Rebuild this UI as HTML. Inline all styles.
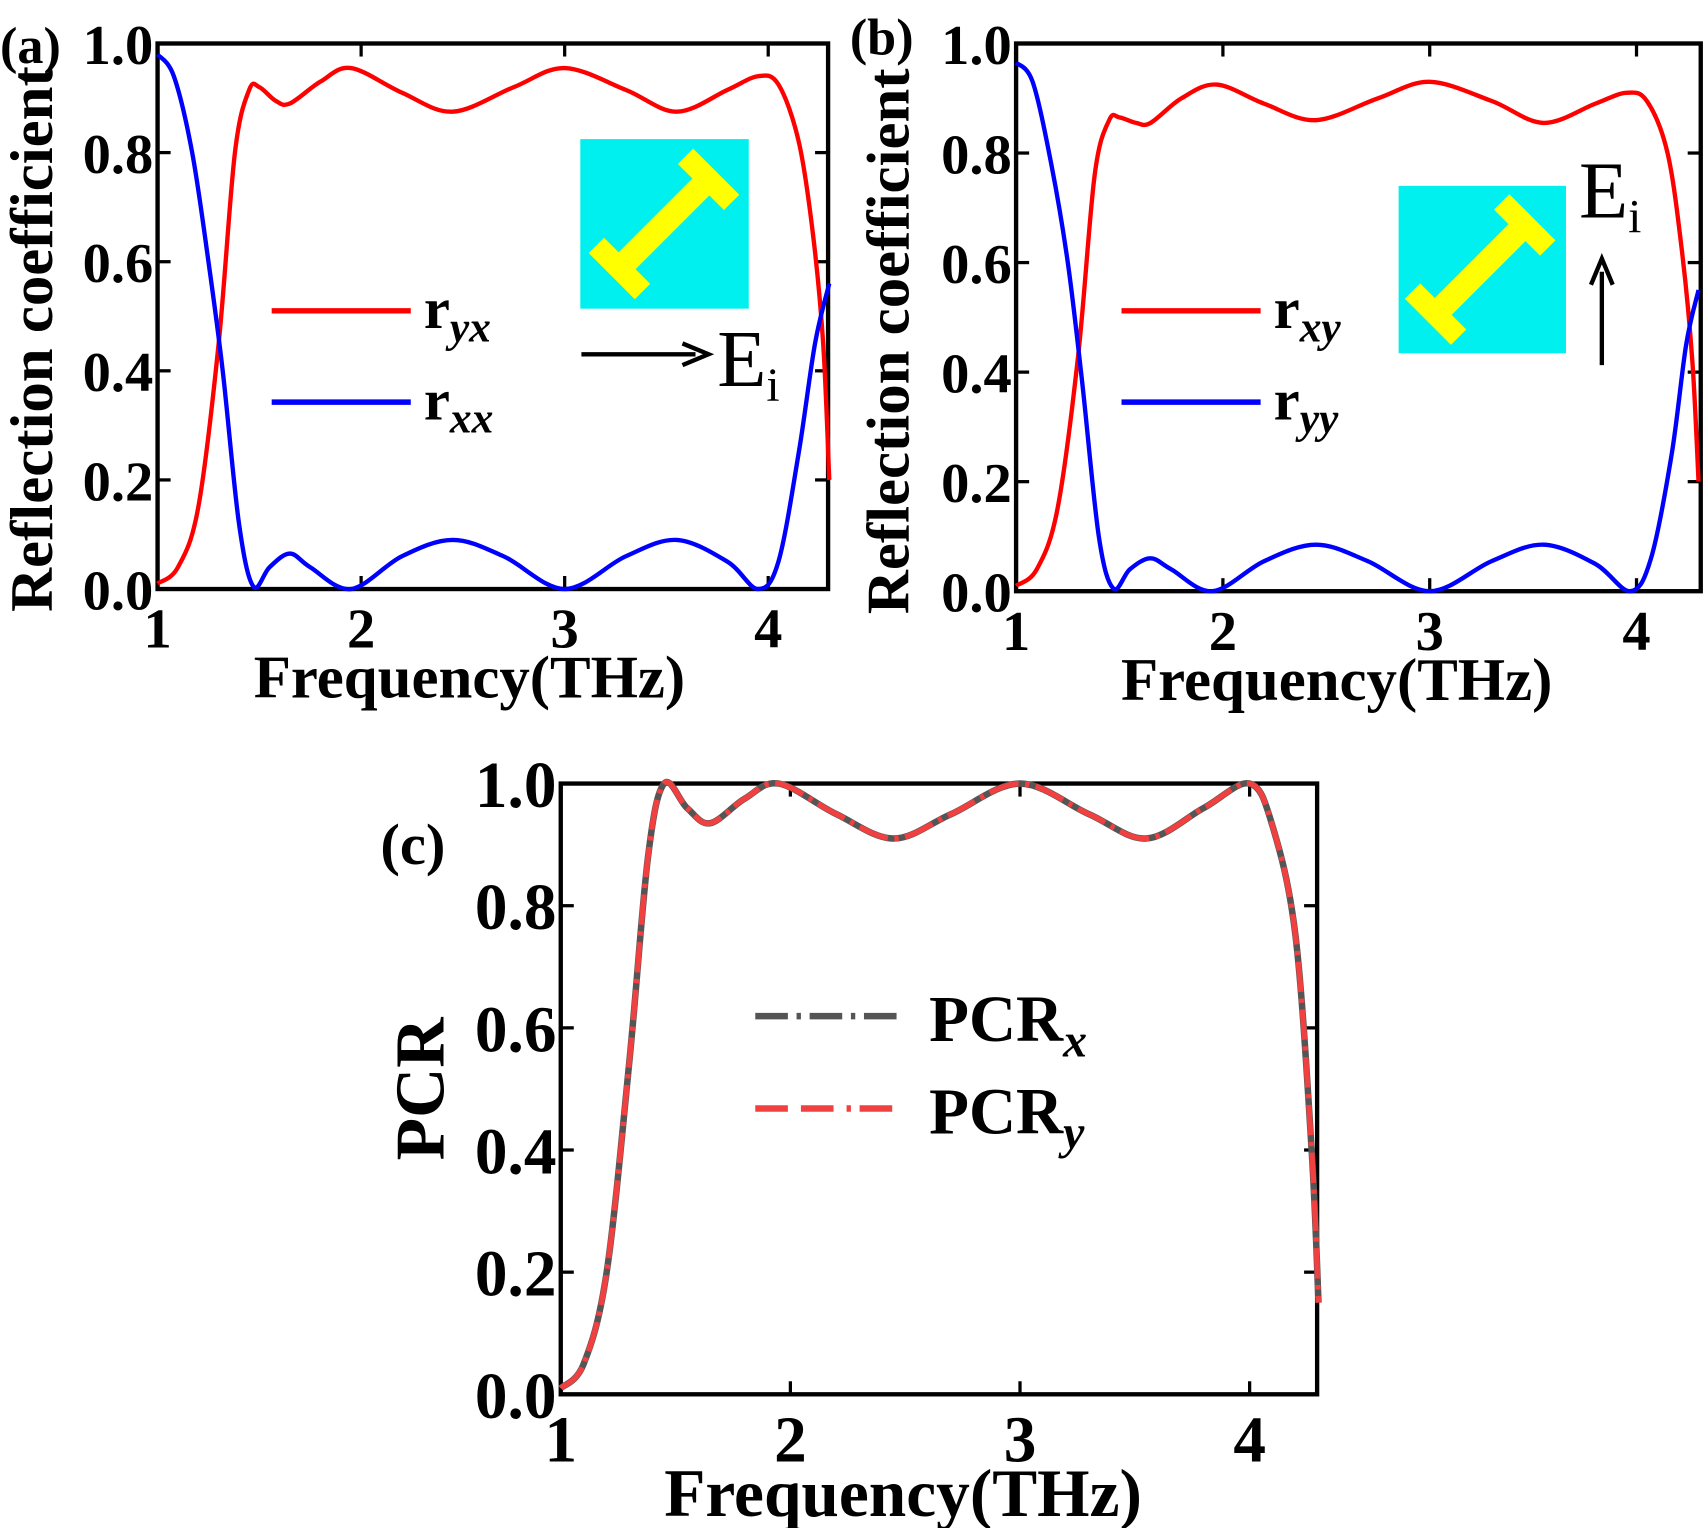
<!DOCTYPE html>
<html><head><meta charset="utf-8"><style>
html,body{margin:0;padding:0;background:#fff}
svg{display:block}
text{font-family:"Liberation Serif",serif;font-weight:bold}
</style></head><body>
<svg id="s" width="1704" height="1528" viewBox="0 0 1568 1406" xmlns="http://www.w3.org/2000/svg">
<g id="g"></g>
<text x="0" y="58" font-size="48">(a)</text>
<text x="782" y="50" font-size="48">(b)</text>
<text x="350" y="795" font-size="54">(c)</text>
<rect x="534" y="128" width="155" height="156" fill="#00f0f0"/>
<g transform="translate(611,206) rotate(-45)" fill="#ffff00">
<rect x="-58" y="-11" width="116" height="22"/><rect x="-68" y="-30" width="20" height="60"/><rect x="48" y="-30" width="20" height="60"/></g>
<line x1="535" y1="326" x2="640" y2="326" stroke="#000" stroke-width="4"/>
<path d="M628,316 L652,326 L628,336" fill="none" stroke="#000" stroke-width="4"/>
<text x="660" y="355" font-size="74" style="font-weight:normal">E<tspan font-size="44" dy="14">i</tspan></text>
<rect x="1287" y="171" width="154" height="154" fill="#00f0f0"/>
<g transform="translate(1362,248) rotate(-45)" fill="#ffff00">
<rect x="-58" y="-11" width="116" height="22"/><rect x="-68" y="-30" width="20" height="60"/><rect x="48" y="-30" width="20" height="60"/></g>
<line x1="1474" y1="336" x2="1474" y2="250" stroke="#000" stroke-width="4"/>
<path d="M1464,262 L1474,238 L1484,262" fill="none" stroke="#000" stroke-width="4"/>
<text x="1453" y="200" font-size="74" style="font-weight:normal">E<tspan font-size="44" dy="14">i</tspan></text>
<line x1="250" y1="286" x2="378" y2="286" stroke="#f00" stroke-width="5"/>
<text x="390" y="302" font-size="54">r<tspan font-size="40" dy="12" font-style="italic">yx</tspan></text>
<line x1="250" y1="370" x2="378" y2="370" stroke="#00f" stroke-width="5"/>
<text x="390" y="386" font-size="54">r<tspan font-size="40" dy="12" font-style="italic">xx</tspan></text>
<line x1="1032" y1="286" x2="1160" y2="286" stroke="#f00" stroke-width="5"/>
<text x="1172" y="302" font-size="54">r<tspan font-size="40" dy="12" font-style="italic">xy</tspan></text>
<line x1="1032" y1="370" x2="1160" y2="370" stroke="#00f" stroke-width="5"/>
<text x="1172" y="386" font-size="54">r<tspan font-size="40" dy="12" font-style="italic">yy</tspan></text>
<line x1="695" y1="935" x2="825" y2="935" stroke="#555" stroke-width="6" stroke-dasharray="30,8,4,8"/>
<text x="855" y="958" font-size="60">PCR<tspan font-size="44" dy="14" font-style="italic">x</tspan></text>
<line x1="695" y1="1020" x2="825" y2="1020" stroke="#f04040" stroke-width="6" stroke-dasharray="30,12,30,12,4,8"/>
<text x="855" y="1043" font-size="60">PCR<tspan font-size="44" dy="14" font-style="italic">y</tspan></text>
</svg>
<script>
var NS="http://www.w3.org/2000/svg",g=document.getElementById('g');
function el(t,a,txt){var e=document.createElementNS(NS,t);for(var k in a)e.setAttribute(k,a[k]);if(txt!=null)e.textContent=txt;g.appendChild(e);return e;}
function cr(pts){var d="M"+pts[0][0]+","+pts[0][1];for(var i=0;i<pts.length-1;i++){var p0=pts[Math.max(i-1,0)],p1=pts[i],p2=pts[i+1],p3=pts[Math.min(i+2,pts.length-1)];
d+=" C"+(p1[0]+(p2[0]-p0[0])/6)+","+(p1[1]+(p2[1]-p0[1])/6)+" "+(p2[0]-(p3[0]-p1[0])/6)+","+(p2[1]-(p3[1]-p1[1])/6)+" "+p2[0]+","+p2[1];}return d;}
function panel(P){var X=function(f){return P.x0+(f-1)*P.sx},Y=function(v){return P.yb-(P.yb-P.yt)*v};
el('rect',{x:P.x0,y:P.yt,width:P.x1-P.x0,height:P.yb-P.yt,fill:'none',stroke:'#000','stroke-width':4});
for(var i=0;i<=5;i++){var y=Y(i/5);el('line',{x1:P.x0,y1:y,x2:P.x0+12,y2:y,stroke:'#000','stroke-width':3});el('line',{x1:P.x1,y1:y,x2:P.x1-12,y2:y,stroke:'#000','stroke-width':3});
el('text',{x:P.x0-4,y:y+P.fs*0.36,'font-size':P.fs,'text-anchor':'end'},(i/5).toFixed(1));}
for(var f=1;f<=4;f++){var x=X(f);el('line',{x1:x,y1:P.yb,x2:x,y2:P.yb-12,stroke:'#000','stroke-width':3});el('line',{x1:x,y1:P.yt,x2:x,y2:P.yt+12,stroke:'#000','stroke-width':3});
el('text',{x:x,y:P.yb+P.tdy,'font-size':P.fs,'text-anchor':'middle'},f);}
el('text',{x:P.fx,y:P.yb+P.fdy,'font-size':P.ffs,'text-anchor':'middle'},'Frequency(THz)');
el('text',{x:0,y:0,'font-size':P.yfs,'text-anchor':'middle',transform:'translate('+P.ylx+','+P.yly+') rotate(-90)'},P.ylab);
P.series.forEach(function(s){var pts=s.p.map(function(q){return [X(q[0]),Y(q[1])]});
var a={d:cr(pts),fill:'none',stroke:s.c,'stroke-width':s.w||4};if(s.da)a['stroke-dasharray']=s.da;el('path',a);});}
panel({x0:145,x1:762,yt:40,yb:542,sx:187.3,fs:52,tdy:54,ffs:56,fx:432,fdy:100,yfs:56,ylx:48,yly:312,ylab:'Reflection coefficient',series:[
{c:'#f00',p:[[1,0.01],[1.1,0.04],[1.2,0.15],[1.3,0.45],[1.38,0.8],[1.45,0.915],[1.5,0.92],[1.58,0.895],[1.65,0.89],[1.8,0.93],[1.95,0.955],[2.2,0.91],[2.45,0.875],[2.75,0.92],[3.0,0.955],[3.3,0.915],[3.55,0.875],[3.8,0.915],[3.95,0.94],[4.05,0.925],[4.15,0.82],[4.22,0.65],[4.27,0.45],[4.3,0.2]]},
{c:'#00f',p:[[1,0.98],[1.08,0.94],[1.17,0.8],[1.25,0.6],[1.32,0.4],[1.4,0.12],[1.47,0.005],[1.55,0.04],[1.65,0.065],[1.75,0.04],[1.95,0],[2.2,0.06],[2.45,0.09],[2.7,0.06],[3,0],[3.3,0.06],[3.55,0.09],[3.8,0.05],[3.95,0.0],[4.05,0.05],[4.15,0.25],[4.23,0.45],[4.3,0.56]]}]});
panel({x0:935,x1:1565,yt:40,yb:544,sx:190.3,fs:52,tdy:54,ffs:56,fx:1230,fdy:100,yfs:56,ylx:836,yly:314,ylab:'Reflection coefficient',series:[
{c:'#f00',p:[[1,0.01],[1.1,0.04],[1.2,0.15],[1.3,0.43],[1.38,0.76],[1.45,0.86],[1.5,0.865],[1.58,0.855],[1.65,0.855],[1.8,0.9],[1.97,0.925],[2.2,0.89],[2.45,0.86],[2.75,0.9],[3.0,0.93],[3.3,0.895],[3.55,0.855],[3.8,0.89],[3.95,0.91],[4.05,0.895],[4.15,0.8],[4.22,0.62],[4.27,0.42],[4.3,0.2]]},
{c:'#00f',p:[[1,0.965],[1.08,0.93],[1.17,0.78],[1.25,0.6],[1.32,0.38],[1.4,0.1],[1.47,0.005],[1.55,0.04],[1.65,0.06],[1.75,0.04],[1.95,0],[2.2,0.055],[2.45,0.085],[2.7,0.055],[3,0],[3.3,0.055],[3.55,0.085],[3.8,0.05],[3.97,0.0],[4.07,0.06],[4.17,0.25],[4.24,0.45],[4.3,0.55]]}]});
var pc=[[1,0.01],[1.1,0.05],[1.2,0.2],[1.3,0.55],[1.38,0.88],[1.45,1.0],[1.55,0.96],[1.65,0.935],[1.8,0.975],[1.95,1.0],[2.2,0.95],[2.45,0.91],[2.7,0.95],[3.0,1.0],[3.3,0.95],[3.55,0.91],[3.8,0.96],[4.0,1.0],[4.1,0.93],[4.2,0.75],[4.27,0.4],[4.3,0.15]];
panel({x0:516,x1:1212,yt:721,yb:1283,sx:211.3,fs:60,tdy:62,ffs:62,fx:831,fdy:112,yfs:64,ylx:408,yly:1002,ylab:'PCR',series:[{c:'#555',w:6,p:pc},{c:'#f04040',w:5,p:pc,da:'28,6,4,6'}]});
</script>
</body></html>
